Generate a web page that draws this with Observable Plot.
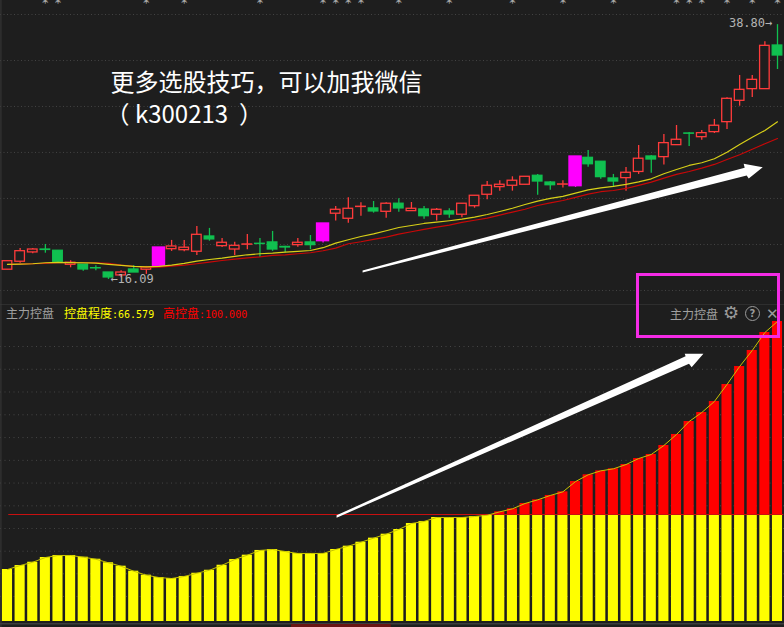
<!DOCTYPE html>
<html lang="zh">
<head>
<meta charset="utf-8">
<script src="https://cdn.jsdelivr.net/npm/d3@7"></script>
<script src="https://cdn.jsdelivr.net/npm/@observablehq/plot@0.6"></script>
<style>
html,body{margin:0;padding:0;background:#1e1e1e;width:784px;height:627px;overflow:hidden}
#page{position:relative;width:784px;height:627px;overflow:hidden}
#top,#bottom{position:absolute;left:0}
#top{top:0}
#bottom{top:305px}
.lab{position:absolute;white-space:nowrap;line-height:14px}
.cjk{font:12px "Noto Sans CJK SC","Noto Sans",sans-serif}
.num{font:10px "DejaVu Sans Mono",monospace}
#box{position:absolute;left:636px;top:273px;width:138px;height:59px;border:3px solid #f42be6}
#help{position:absolute;left:745px;top:306px;width:13px;height:13px;border:1.4px solid #9a9a9a;border-radius:50%;color:#9a9a9a;font:bold 10px/13px "DejaVu Sans",sans-serif;text-align:center}
</style>
</head>
<body>
<div id="page">
  <div id="top"></div>
  <div id="bottom"></div>
  <div class="lab cjk" style="left:6px;top:304px;color:#a0a0a0">主力控盘</div>
  <div class="lab cjk" style="left:64px;top:304px;color:#ffff00">控盘程度<span class="num">:66.579</span></div>
  <div class="lab cjk" style="left:163px;top:304px;color:#ff0000">高控盘<span class="num">:100.000</span></div>
  <div class="lab cjk" style="left:670px;top:305px;color:#a0a0a0">主力控盘</div>
  <div class="lab" style="left:723px;top:306px;color:#9a9a9a;font:18px/14px 'DejaVu Sans'">⚙</div>
  <div id="help">?</div>
  <div class="lab" style="left:766px;top:307px;color:#9a9a9a;font:15px/14px 'DejaVu Sans'">✕</div>
  <div id="box"></div>
</div>
<script>
// Price panel: one entry per trading day
const open = [16.96,17.67,18.50,18.76,18.65,17.40,17.43,17.10,16.71,16.45,16.98,16.96,17.31,18.79,18.70,18.56,19.92,19.06,18.76,19.19,19.27,19.39,18.99,19.15,19.39,19.50,21.95,21.50,22.55,22.42,22.12,22.84,22.18,22.33,21.86,22.15,21.86,22.62,23.64,24.32,24.44,24.53,25.33,24.73,24.54,24.40,26.93,26.58,25.09,25.12,25.67,27.05,26.99,28.06,29.10,28.77,29.22,30.11,32.01,33.05,33.05,36.94];
const close = [17.72,18.61,18.76,18.72,17.67,17.58,16.98,17.08,16.27,16.71,16.71,17.16,18.94,19.03,18.92,20.07,19.66,19.36,19.09,19.21,19.25,18.76,18.94,19.36,19.15,21.08,22.30,22.39,22.57,22.15,22.84,22.42,22.39,21.73,22.30,21.88,22.84,23.55,24.44,24.53,24.89,25.24,24.82,24.49,24.56,27.05,26.36,25.21,24.82,25.60,26.85,26.78,28.24,28.54,29.08,29.13,29.79,32.19,32.99,33.88,36.91,36.05];
const high = [17.72,18.85,18.85,19.21,18.65,17.76,17.43,17.31,16.71,16.87,17.34,17.25,18.94,19.57,19.57,20.81,20.64,19.74,19.41,20.10,19.74,20.37,19.06,19.74,20.01,21.08,22.60,23.37,22.93,23.04,22.93,23.28,22.95,22.60,22.42,22.39,22.84,23.55,24.82,24.89,25.24,25.24,25.45,24.82,24.89,27.05,27.58,26.58,25.45,26.07,28.03,27.14,29.01,29.81,29.19,29.37,30.35,32.28,34.27,34.27,37.27,38.80];
const low = [16.96,17.54,18.38,18.43,17.58,17.13,16.83,16.87,16.09,16.24,16.71,16.54,17.31,18.59,18.56,18.23,19.50,18.94,18.23,18.74,18.05,18.59,18.47,18.97,18.74,19.33,21.29,21.11,21.73,22.00,21.55,22.09,22.18,21.46,21.29,21.55,21.59,22.44,23.19,23.96,23.96,24.53,23.60,24.05,24.23,24.29,26.10,25.03,24.32,23.96,25.45,25.56,26.28,28.06,27.94,28.50,29.10,29.46,31.53,32.31,33.05,34.80];
const maFast = [17.43,17.45,17.49,17.58,17.61,17.59,17.58,17.54,17.43,17.34,17.25,17.22,17.25,17.37,17.52,17.72,17.87,17.99,18.14,18.29,18.38,18.43,18.52,18.59,18.67,18.92,19.33,19.63,19.92,20.16,20.43,20.72,20.90,21.08,21.20,21.32,21.46,21.64,21.88,22.15,22.44,22.77,23.07,23.31,23.49,23.78,24.08,24.26,24.38,24.56,24.78,25.06,25.51,25.89,26.25,26.49,26.85,27.43,28.12,28.77,29.37,30.14];
const maSlow = [17.43,17.45,17.49,17.52,17.58,17.58,17.58,17.58,17.52,17.37,17.25,17.19,17.19,17.28,17.37,17.49,17.63,17.78,17.90,18.02,18.11,18.23,18.29,18.38,18.47,18.65,18.88,19.27,19.45,19.66,19.86,20.13,20.34,20.55,20.75,20.93,21.17,21.37,21.55,21.82,22.09,22.35,22.68,22.92,23.13,23.40,23.69,23.91,24.02,24.20,24.47,24.76,25.12,25.45,25.71,26.01,26.34,26.78,27.20,27.70,28.18,28.65];
const signalDays = [12,25,45];
const starDays = [3,4,11,14,20,25,26,27,28,31,35,40,44,48,53,54,55,57,59,61];
const priceTicks = [39.70,35.60,31.51,27.41,23.31,19.21,15.11];

// Control panel: 主力控盘 value per day, 高控盘 threshold
const control = [48.6,52.3,55.4,59.8,61.7,61.7,60.1,58.2,54.9,51.7,47.0,43.3,41.1,40.2,42.1,45.1,47.9,52.6,57.9,62.0,66.4,67.3,65.4,63.6,63.6,63.6,67.3,70.4,74.1,77.9,81.6,86.0,91.6,93.5,97.2,97.2,97.2,98.1,99.3,102.5,105.3,110.3,113.7,117.8,121.2,130.8,137.1,140.8,142.7,146.7,152.3,156.1,164.5,174.8,186.9,195.3,205.6,221.5,238.3,253.3,270.1,280.4];
const highControl = 100;
const controlTicks = [23.4,44.6,65.7,86.9,108.1,129.4,150.6,171.9,193.2,214.5,235.7,257.0];

// Hand-drawn annotations, in chart units
const arrowTop = [[28.13,16.90],[58.40,26.05],[58.32,26.40],[59.83,26.10],[58.72,25.09],[58.56,25.36],[28.13,16.70]];
const arrowBottom = [[26.07,99.2],[53.72,248.0],[53.65,250.2],[55.13,250.2],[54.20,237.7],[53.99,240.8],[26.07,97.0]];
const noteLines = [{x:8.16,y:33.55,t:"更多选股技巧，可以加我微信"},{x:7.77,y:30.72,t:"（ k300213 \u00a0）"}];
const extremes = [{x:57.15,y:38.90,t:"38.80→"},{x:8.15,y:16.09,t:"←16.09"}];

const bg = "#1e1e1e", upC = "#ff3b3b", downC = "#10c050", sigC = "#ff00ff";
const gridC = "#454545";
const days = d3.range(open.length);
const isSig = new Set(signalDays);
const bodyColor = i => isSig.has(i) ? sigC : (close[i] >= open[i] ? upC : downC);
const bodyFill = i => isSig.has(i) ? sigC : (close[i] >= open[i] ? bg : downC);
const halfW = i => isSig.has(i) ? 0.48 : 0.38;
const base = {width:784, marginTop:0, marginRight:0, marginBottom:0, marginLeft:0,
  style:{background:"transparent"}};
const xScale = {domain:[0,61], range:[7,777], axis:null};

const topPlot = Plot.plot({...base, height:305, x:xScale,
  y:{domain:[13.77,40.95], range:[305,0], axis:null},
  marks:[
    Plot.ruleY(priceTicks,{stroke:gridC, strokeDasharray:"1,2.5", strokeWidth:1}),
    Plot.ruleX([-0.52],{stroke:"#3a3a3a"}),
    Plot.ruleY([13.82],{stroke:"#3c3c3c", strokeWidth:1}),
    Plot.ruleX(days,{x:i=>i, y1:i=>low[i], y2:i=>high[i], stroke:bodyColor, strokeWidth:1.3}),
    Plot.rect(days,{x1:i=>i-halfW(i), x2:i=>i+halfW(i), y1:i=>open[i], y2:i=>close[i], fill:bodyFill, stroke:bodyColor, strokeWidth:1.3}),
    Plot.line(days,{x:i=>i, y:i=>maSlow[i], stroke:"#c80808", strokeWidth:1.2}),
    Plot.line(days,{x:i=>i, y:i=>maFast[i], stroke:"#d8d018", strokeWidth:1.2}),
    Plot.text(starDays,{x:i=>i, y:40.72, text:()=>"*", fill:"#b0b0b0", fontSize:13, fontFamily:"DejaVu Sans"}),
    Plot.text(extremes,{x:"x", y:"y", text:"t", fill:"#b4b4b4", fontSize:12, fontFamily:"DejaVu Sans Mono", textAnchor:"start"}),
    Plot.text(noteLines,{x:"x", y:"y", text:"t", fill:"#ffffff", fontSize:24, fontFamily:"Noto Sans CJK SC", textAnchor:"start"}),
    Plot.line(arrowTop,{x:d=>d[0], y:d=>d[1], fill:"#ffffff", stroke:"none", curve:"linear-closed"})
  ]});
document.getElementById("top").appendChild(topPlot);

const botPlot = Plot.plot({...base, height:322, x:xScale,
  y:{domain:[-5.6,295.33], range:[322,0], axis:null},
  marks:[
    Plot.ruleY(controlTicks,{stroke:gridC, strokeDasharray:"1,3.5", strokeWidth:1}),
    Plot.ruleX([-0.52],{stroke:"#3a3a3a"}),
    Plot.rectY(days,{x1:i=>i-0.4, x2:i=>i+0.4, y1:()=>0, y2:i=>Math.min(control[i],highControl), fill:"#ffff00"}),
    Plot.rectY(days.filter(i=>control[i]>highControl),{x1:i=>i-0.4, x2:i=>i+0.4, y1:()=>highControl, y2:i=>control[i], fill:"#ff0000"}),
    Plot.ruleY([highControl],{x1:0.1, x2:61.5, stroke:"#c81010", strokeWidth:1}),
    Plot.line(days,{x:i=>i, y:i=>control[i], stroke:"#c8c400", strokeWidth:1}),
    Plot.ruleY([-2],{stroke:"#3c3c3c", strokeWidth:1.5}),
    Plot.rect([0],{x1:22.5, x2:30.4, y1:-2.8, y2:-5.6, fill:"#6a1515"}),
    Plot.line(arrowBottom,{x:d=>d[0], y:d=>d[1], fill:"#ffffff", stroke:"none", curve:"linear-closed"})
  ]});
document.getElementById("bottom").appendChild(botPlot);
</script>
</body>
</html>
